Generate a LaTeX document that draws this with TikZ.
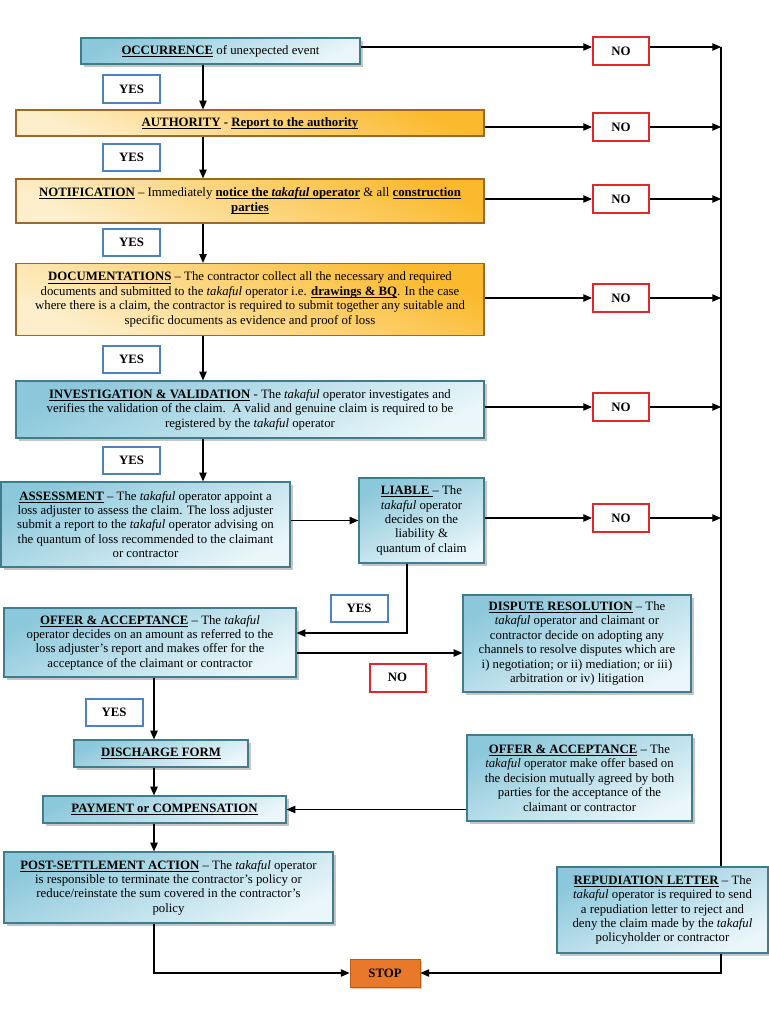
\documentclass[tikz,border=0pt]{standalone}
\usepackage{fontspec}
\setmainfont{Liberation Serif}
\usetikzlibrary{arrows.meta,shadows}
\definecolor{bdark}{HTML}{8CC8DB}
\definecolor{blight}{HTML}{EAF6FA}
\definecolor{bborder}{HTML}{3F7D8E}
\definecolor{odark}{HTML}{FBBA2E}
\definecolor{olight}{HTML}{FDEFCB}
\definecolor{oborder}{HTML}{9C6A28}
\definecolor{yesblue}{HTML}{4F81BD}
\definecolor{nored}{HTML}{E3262B}
\definecolor{stopor}{HTML}{E8782A}
\definecolor{stopbd}{HTML}{B85A18}
\newcommand{\myul}[1]{\setbox0\hbox{#1}\rlap{\rule[-1.7pt]{\wd0}{0.55pt}}\box0\relax}
\tikzset{
  txt/.style={font=\fontsize{9.6}{10.8}\selectfont, align=center, inner sep=2pt},
  bluebox/.style={txt, draw=bborder, line width=0.9pt, top color=bdark, bottom color=blight, shading angle=25,
    drop shadow={shadow xshift=2.2pt, shadow yshift=-2.2pt, fill=black!45}},
  orbox/.style={txt, draw=oborder, line width=0.9pt, top color=odark, bottom color=olight, shading angle=-25},
  yesbox/.style={draw=yesblue, line width=1.5pt, fill=white, font=\fontsize{9.6}{10}\selectfont\bfseries,
    minimum width=42.75pt, minimum height=20.25pt, inner sep=0pt},
  nobox/.style={draw=nored, line width=1.5pt, fill=white, font=\fontsize{9.6}{10}\selectfont\bfseries,
    minimum width=42pt, minimum height=21pt, inner sep=0pt},
  stopbox/.style={draw=stopbd, line width=0.6pt, fill=stopor, font=\fontsize{9.6}{10}\selectfont\bfseries,
    minimum width=52.5pt, minimum height=21pt, inner sep=0pt,
    drop shadow={shadow xshift=1.5pt, shadow yshift=-1.5pt, fill=stopbd!70}},
  arr/.style={line width=0.9pt, -{Triangle[length=6.5pt,width=5.5pt]}},
  ln/.style={line width=0.9pt}
}
\newcommand{\tk}{\textit{takaful}}
\begin{document}
\begin{tikzpicture}[x=0.75pt,y=-0.75pt]
\useasboundingbox (0,0) rectangle (768,1024);
\coordinate (spine) at (203,0);
\coordinate (vl) at (721,0);
\coordinate (col) at (154,0);

% main boxes
\node[bluebox, minimum width=209.25pt, minimum height=19.5pt] (occ) at (220.5,51)
  {\textbf{\myul{OCCURRENCE}} of unexpected event};
\node[orbox, minimum width=351pt, minimum height=19.5pt] (auth) at (250,123)
  {\textbf{\myul{AUTHORITY} - \myul{Report to the authority}}};
\node[orbox, minimum width=351pt, minimum height=33pt] (notif) at (250,201)
  {\textbf{\myul{NOTIFICATION}} -- Immediately \textbf{\myul{notice the \textit{takaful} operator}} \& all \textbf{\myul{construction}}\\ \textbf{\myul{parties}}};
\node[orbox, minimum width=351pt, minimum height=54pt] (doc) at (250,299.5)
  {\textbf{\myul{DOCUMENTATIONS}} -- The contractor collect all the necessary and required\\
   documents and submitted to the \tk{} operator i.e. \textbf{\myul{drawings \& BQ}}. In the case\\
   where there is a claim, the contractor is required to submit together any suitable and\\
   specific documents as evidence and proof of loss};
\node[bluebox, minimum width=351pt, minimum height=42.75pt] (inv) at (250,409.5)
  {\textbf{\myul{INVESTIGATION \& VALIDATION}} - The \tk{} operator investigates and\\
   verifies the validation of the claim.\ \ A valid and genuine claim is required to be\\
   registered by the \tk{} operator};
\node[bluebox, minimum width=216.75pt, minimum height=63.75pt] (assess) at (145.5,524.5)
  {\textbf{\myul{ASSESSMENT}} -- The \tk{} operator appoint a\\
   loss adjuster to assess the claim. The loss adjuster\\
   submit a report to the \tk{} operator advising on\\
   the quantum of loss recommended to the claimant\\
   or contractor};
\node[bluebox, minimum width=93.75pt, minimum height=63.75pt] (liable) at (421.5,520.5)
  {\textbf{\myul{LIABLE }}-- The\\ \tk{} operator\\ decides on the\\ liability \&\\ quantum of claim};
\node[bluebox, minimum width=219pt, minimum height=51.75pt] (offerA) at (150,642.5)
  {\textbf{\myul{OFFER \& ACCEPTANCE}} -- The \tk{}\\
   operator decides on an amount as referred to the\\
   loss adjuster's report and makes offer for the\\
   acceptance of the claimant or contractor};
\node[bluebox, minimum width=171pt, minimum height=72.75pt] (dispute) at (577,643.5)
  {\textbf{\myul{DISPUTE RESOLUTION}} -- The\\
   \tk{} operator and claimant or\\
   contractor decide on adopting any\\
   channels to resolve disputes which are\\
   i) negotiation; or ii) mediation; or iii)\\
   arbitration or iv) litigation};
\node[bluebox, minimum width=130.5pt, minimum height=20.25pt] (discharge) at (161,753.5)
  {\textbf{\myul{DISCHARGE FORM}}};
\node[bluebox, minimum width=182.25pt, minimum height=20.25pt] (payment) at (164.5,809.5)
  {\textbf{\myul{PAYMENT or COMPENSATION}}};
\node[bluebox, minimum width=168.75pt, minimum height=64.5pt] (offerB) at (579.5,778)
  {\textbf{\myul{OFFER \& ACCEPTANCE}} -- The\\
   \tk{} operator make offer based on\\
   the decision mutually agreed by both\\
   parties for the acceptance of the\\
   claimant or contractor};
\node[bluebox, minimum width=246.75pt, minimum height=53.25pt] (post) at (168.5,887.5)
  {\textbf{\myul{POST-SETTLEMENT ACTION}} -- The \tk{} operator\\
   is responsible to terminate the contractor's policy or\\
   reduce/reinstate the sum covered in the contractor's\\
   policy};
\node[bluebox, minimum width=158.25pt, minimum height=64.5pt] (repud) at (662.5,910)
  {\textbf{\myul{REPUDIATION LETTER}} -- The\\
   \tk{} operator is required to send\\
   a repudiation letter to reject and\\
   deny the claim made by the \tk{}\\
   policyholder or contractor};
\node[stopbox] (stop) at (385,973) {STOP};

% YES labels
\node[yesbox] (yes1) at (131.5,89) {YES};
\node[yesbox] (yes2) at (131.5,157) {YES};
\node[yesbox] (yes3) at (131.5,242.5) {YES};
\node[yesbox] (yes4) at (131.5,359) {YES};
\node[yesbox] (yes5) at (131.5,460) {YES};
\node[yesbox] (yes6) at (359,608.5) {YES};
\node[yesbox] (yes7) at (114,712) {YES};

% NO labels
\node[nobox] (no1) at (621,51) {NO};
\node[nobox] (no2) at (621,127) {NO};
\node[nobox] (no3) at (621,199) {NO};
\node[nobox] (no4) at (621,298) {NO};
\node[nobox] (no5) at (621,407) {NO};
\node[nobox] (no6) at (621,518) {NO};
\node[nobox] (no7) at (397.5,677.5) {NO};

% main spine
\draw[arr] (occ.south -| spine) -- (auth.north -| spine);
\draw[arr] (auth.south -| spine) -- (notif.north -| spine);
\draw[arr] (notif.south -| spine) -- (doc.north -| spine);
\draw[arr] (doc.south -| spine) -- (inv.north -| spine);
\draw[arr] (inv.south -| spine) -- (assess.north -| spine);

% NO branches
\draw[arr] ([yshift=3pt]occ.east) -- ([yshift=3pt]no1.west);
\draw[arr] (auth.east |- no2) -- (no2.west);
\draw[arr] (notif.east |- no3) -- (no3.west);
\draw[arr] (doc.east |- no4) -- (no4.west);
\draw[arr] (inv.east |- no5) -- (no5.west);
\draw[arr] (liable.east |- no6) -- (no6.west);
\draw[arr] ([yshift=3pt]no1.east) -- ([yshift=3pt]no1.east -| vl);
\draw[arr] (no2.east) -- (no2 -| vl);
\draw[arr] (no3.east) -- (no3 -| vl);
\draw[arr] (no4.east) -- (no4 -| vl);
\draw[arr] (no5.east) -- (no5 -| vl);
\draw[arr] (no6.east) -- (no6 -| vl);
\draw[ln] ([yshift=3pt]no1.east -| vl) -- (repud.north -| vl);

% assessment / liable
\draw[arr] (assess.east |- liable.west) -- (liable.west);
\coordinate (lx) at (407,633);
\draw[arr] (liable.south -| lx) -- (lx) -- (offerA.east |- lx);
\coordinate (dy) at (0,653);
\draw[arr] (offerA.east |- dy) -- (dispute.west |- dy);

% lower column
\draw[arr] (offerA.south -| col) -- (discharge.north -| col);
\draw[arr] (discharge.south -| col) -- (payment.north -| col);
\draw[arr] (payment.south -| col) -- (post.north -| col);
\draw[arr] (offerB.west |- payment) -- (payment.east);
\draw[arr] (post.south -| col) |- (stop.west);
\draw[arr] (repud.south -| vl) |- (stop.east);
\end{tikzpicture}
\end{document}
